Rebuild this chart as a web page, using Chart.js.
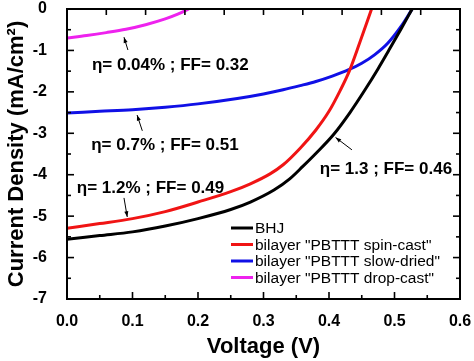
<!DOCTYPE html>
<html>
<head>
<meta charset="utf-8">
<script src="https://cdn.jsdelivr.net/npm/chart.js@4.4.0/dist/chart.umd.min.js"></script>
<style>
    html, body { margin: 0; padding: 0; background: #fff; }
</style>
</head>
<body>
<canvas id="grafico" width="474" height="361"></canvas>
<script>
// curvas J-V (V em volts, J em mA/cm2)
const bhjV = [0, 0.05, 0.1, 0.15, 0.2, 0.25, 0.28, 0.316, 0.34, 0.36, 0.381, 0.407, 0.432, 0.455, 0.475, 0.492, 0.51, 0.527];
const bhjJ = [-5.56, -5.47, -5.38, -5.24, -5.06, -4.84, -4.66, -4.37, -4.1, -3.8, -3.47, -3.03, -2.5, -1.95, -1.44, -0.98, -0.48, 0];

const spinV = [0, 0.05, 0.1, 0.15, 0.2, 0.25, 0.28, 0.31, 0.33, 0.356, 0.38, 0.4, 0.417, 0.431, 0.447, 0.465];
const spinJ = [-5.29, -5.18, -5.06, -4.89, -4.66, -4.41, -4.22, -3.98, -3.76, -3.36, -2.92, -2.47, -1.97, -1.5, -0.81, 0];

const slowV = [0, 0.05, 0.1, 0.15, 0.2, 0.26, 0.3, 0.33, 0.356, 0.38, 0.405, 0.431, 0.45, 0.47, 0.49, 0.51, 0.527];
const slowJ = [-2.51, -2.47, -2.43, -2.37, -2.29, -2.16, -2.05, -1.95, -1.85, -1.75, -1.62, -1.46, -1.31, -1.1, -0.82, -0.42, 0];

const dropV = [0, 0.03, 0.06, 0.09, 0.12, 0.15, 0.17, 0.186];
const dropJ = [-0.7, -0.64, -0.57, -0.49, -0.38, -0.24, -0.12, 0];

const rotulos = ["BHJ", "bilayer \"PBTTT spin-cast\"", "bilayer \"PBTTT slow-dried\"", "bilayer \"PBTTT drop-cast\""];
const cores = ["#000000", "#f01414", "#1010e6", "#ee22ee"];

const xTicks = [0, 0.1, 0.2, 0.3, 0.4, 0.5, 0.6];
const yTicks = [0, -1, -2, -3, -4, -5, -6, -7];

// anotacoes: texto e seta (coordenadas em unidades dos dados)
const anotacoes = [
    { texto: "η= 0.04% ; FF= 0.32", x: 0.038, y: -1.35, de: [0.093, -0.99], para: [0.087, -0.68] },
    { texto: "η= 0.7% ; FF= 0.51", x: 0.037, y: -3.28, de: [0.115, -2.94], para: [0.107, -2.56] },
    { texto: "η= 1.2% ; FF= 0.49", x: 0.015, y: -4.32, de: [0.087, -4.56], para: [0.092, -5.02] },
    { texto: "η= 1.3 ; FF= 0.46", x: 0.386, y: -3.86, de: [0.435, -3.4], para: [0.41, -3.1] }
];

const fonte = "Arial, 'Liberation Sans', sans-serif";

function pontos(vs, js) {
    return vs.map((v, i) => ({ x: v, y: js[i] }));
}

const series = [pontos(bhjV, bhjJ), pontos(spinV, spinJ), pontos(slowV, slowJ), pontos(dropV, dropJ)];

function linha(ctx, x1, y1, x2, y2) {
    ctx.beginPath();
    ctx.moveTo(x1, y1);
    ctx.lineTo(x2, y2);
    ctx.stroke();
}

const molduraPlugin = {
    id: "moldura",
    afterDraw(chart) {
        const { ctx, chartArea: a, scales: { x, y } } = chart;
        ctx.save();
        ctx.strokeStyle = "#000";
        ctx.lineWidth = 2;
        ctx.strokeRect(a.left, a.top, a.right - a.left, a.bottom - a.top);
        ctx.lineWidth = 1.6;
        // eixo de baixo: maiores e menores
        for (let i = 0; i <= 12; i++) {
            const px = x.getPixelForValue(i * 0.05);
            const len = i % 2 === 0 ? 7 : 4;
            linha(ctx, px, a.bottom, px, a.bottom - len);
        }
        // eixo de cima: 10 divisoes iguais
        for (let i = 0; i <= 10; i++) {
            const px = a.left + (a.right - a.left) * i / 10;
            linha(ctx, px, a.top, px, a.top + 6);
        }
        for (let i = 0; i <= 14; i++) {
            const py = y.getPixelForValue(-i * 0.5);
            const len = i % 2 === 0 ? 7 : 4;
            linha(ctx, a.left, py, a.left + len, py);
            linha(ctx, a.right, py, a.right - len, py);
        }

        // anotacoes
        ctx.fillStyle = "#000";
        ctx.font = "bold 17px " + fonte;
        ctx.textBaseline = "middle";
        ctx.textAlign = "left";
        ctx.lineWidth = 1;
        anotacoes.forEach(an => {
            ctx.fillText(an.texto, x.getPixelForValue(an.x), y.getPixelForValue(an.y));
            const x1 = x.getPixelForValue(an.de[0]), y1 = y.getPixelForValue(an.de[1]);
            const x2 = x.getPixelForValue(an.para[0]), y2 = y.getPixelForValue(an.para[1]);
            linha(ctx, x1, y1, x2, y2);
            const ang = Math.atan2(y2 - y1, x2 - x1);
            ctx.beginPath();
            ctx.moveTo(x2, y2);
            ctx.lineTo(x2 - 6 * Math.cos(ang - 0.35), y2 - 6 * Math.sin(ang - 0.35));
            ctx.lineTo(x2 - 6 * Math.cos(ang + 0.35), y2 - 6 * Math.sin(ang + 0.35));
            ctx.closePath();
            ctx.fill();
        });

        // legenda
        ctx.font = "15.5px " + fonte;
        rotulos.forEach((r, i) => {
            const ly = a.bottom - 71 + i * 16.5;
            ctx.strokeStyle = cores[i];
            ctx.lineWidth = 3;
            linha(ctx, a.right - 229, ly, a.right - 207, ly);
            ctx.fillStyle = "#000";
            ctx.fillText(r, a.right - 205, ly + 1);
        });
        ctx.restore();
    }
};

new Chart(document.getElementById("grafico"), {
    type: "scatter",
    data: {
        datasets: series.map((s, i) => ({
            label: rotulos[i],
            data: s,
            showLine: true,
            borderColor: cores[i],
            backgroundColor: cores[i],
            borderWidth: 3,
            pointRadius: 0,
            cubicInterpolationMode: "monotone"
        }))
    },
    options: {
        responsive: false,
        animation: false,
        layout: { padding: { top: 9, right: 14, left: 0, bottom: 0 } },
        plugins: { legend: { display: false }, tooltip: { enabled: false } },
        scales: {
            x: {
                type: "linear",
                min: 0,
                max: 0.6,
                afterBuildTicks: s => { s.ticks = xTicks.map(v => ({ value: v })); },
                afterFit: s => { s.height = 62; s.paddingLeft = 0; s.paddingRight = 0; },
                grid: { display: false },
                border: { display: false },
                ticks: {
                    padding: 7,
                    color: "#000",
                    font: { family: fonte, size: 16, weight: "bold", lineHeight: 1 },
                    callback: v => v.toFixed(1)
                },
                title: {
                    display: true,
                    text: "Voltage (V)",
                    color: "#000",
                    padding: { top: 0, bottom: 1 },
                    font: { family: fonte, size: 22, weight: "bold" }
                }
            },
            y: {
                type: "linear",
                min: -7,
                max: 0,
                afterBuildTicks: s => { s.ticks = yTicks.map(v => ({ value: v })); },
                afterFit: s => { s.width = 67; s.paddingTop = 0; s.paddingBottom = 0; },
                grid: { display: false },
                border: { display: false },
                ticks: {
                    padding: 12,
                    color: "#000",
                    font: { family: fonte, size: 16, weight: "bold", lineHeight: 1 }
                },
                title: {
                    display: true,
                    text: "Current Density (mA/cm²)",
                    color: "#000",
                    padding: { top: 4, bottom: 0 },
                    font: { family: fonte, size: 22, weight: "bold" }
                }
            }
        }
    },
    plugins: [molduraPlugin]
});
</script>
</body>
</html>
